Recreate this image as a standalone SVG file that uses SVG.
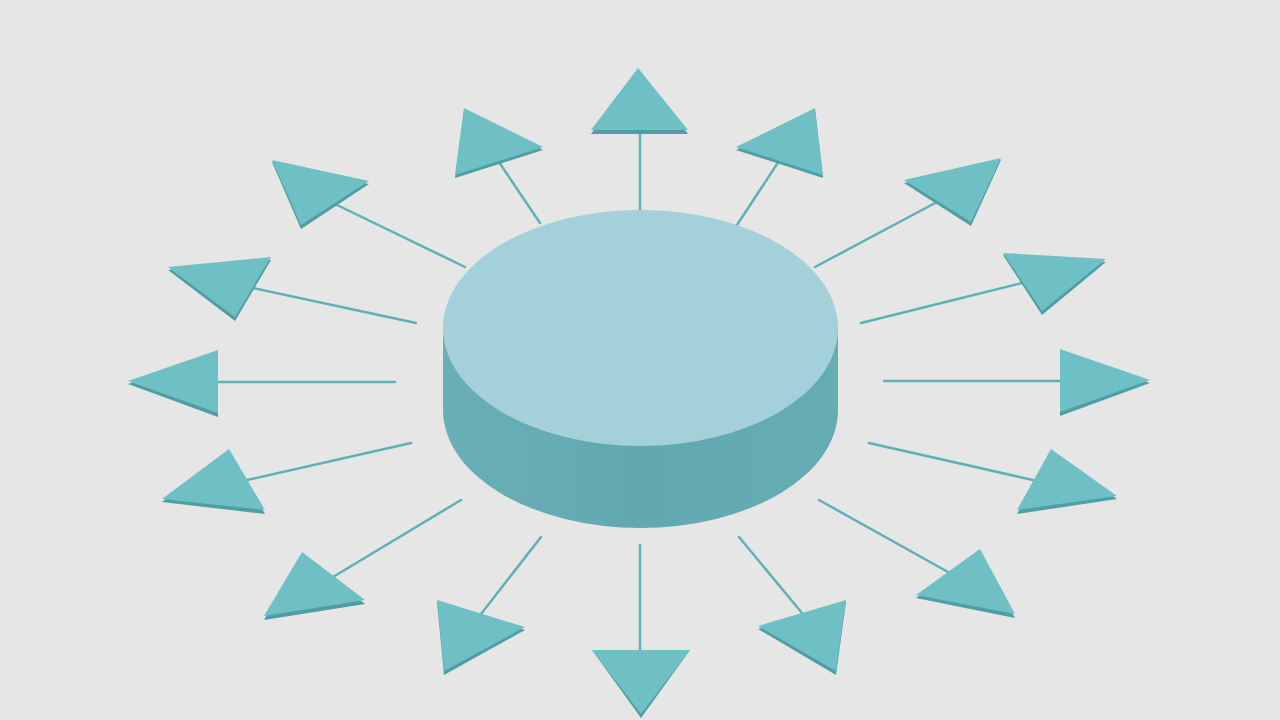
<svg xmlns="http://www.w3.org/2000/svg" width="1280" height="720" viewBox="0 0 1280 720">
<style>
.ln{stroke:#5eb1b6;stroke-width:2.5;fill:none;stroke-linecap:round}
.hd{fill:#6fc0c5}
.sh{fill:#4f9ea4}
</style>
<defs>
<linearGradient id="side" x1="0" y1="0" x2="1" y2="0">
<stop offset="0" stop-color="#6aafb6"/>
<stop offset="0.5" stop-color="#62a8b0"/>
<stop offset="1" stop-color="#66acb3"/>
</linearGradient>
</defs>
<rect width="1280" height="720" fill="#e6e6e6"/>
<g id="connectors">
<line class="ln" x1="640" y1="211" x2="640" y2="131"/>
<line class="ln" x1="640" y1="545" x2="640" y2="650"/>
<line class="ln" x1="395" y1="382" x2="218" y2="382"/>
<line class="ln" x1="884" y1="381" x2="1060" y2="381"/>
<line class="ln" x1="737" y1="225" x2="779" y2="161"/>
<line class="ln" x1="540" y1="223" x2="499" y2="162"/>
<line class="ln" x1="815" y1="267" x2="937" y2="202"/>
<line class="ln" x1="465" y1="267" x2="335" y2="204"/>
<line class="ln" x1="861" y1="323" x2="1022" y2="283"/>
<line class="ln" x1="416" y1="323" x2="253" y2="288"/>
<line class="ln" x1="411" y1="443" x2="247" y2="480"/>
<line class="ln" x1="869" y1="443" x2="1033" y2="480"/>
<line class="ln" x1="461" y1="500" x2="333" y2="577"/>
<line class="ln" x1="819" y1="500" x2="948" y2="572"/>
<line class="ln" x1="541" y1="537" x2="481" y2="614"/>
<line class="ln" x1="739" y1="537" x2="802" y2="613"/>
</g>
<g id="arrowheads">
<g id="ah-n"><polygon class="sh" points="638,70 591,134 688,134"/><polygon class="hd" points="638,68 591,130 688,130"/></g>
<g id="ah-s"><polygon class="sh" points="592,650 690,650 641,718"/><polygon class="hd" points="592,650 690,650 641,714"/></g>
<g id="ah-w"><polygon class="sh" points="128,384 218,352 218,417"/><polygon class="hd" points="128,381 218,350 218,413"/></g>
<g id="ah-e"><polygon class="sh" points="1150,383 1060,351 1060,416"/><polygon class="hd" points="1150,380 1060,349 1060,412"/></g>
<g id="ah-nne"><polygon class="sh" points="736,150 815,110 823,178"/><polygon class="hd" points="736,147 815,108 823,175"/></g>
<g id="ah-nnw"><polygon class="sh" points="464,110 455,178 543,150"/><polygon class="hd" points="464,108 455,175 543,147"/></g>
<g id="ah-ne"><polygon class="sh" points="1001,160 904,183 971,226"/><polygon class="hd" points="1001,158 904,180 971,222"/></g>
<g id="ah-nw"><polygon class="sh" points="272,162 369,184 301,229"/><polygon class="hd" points="272,160 369,181 301,225"/></g>
<g id="ah-ene"><polygon class="sh" points="1003,255 1106,262 1042,315"/><polygon class="hd" points="1003,253 1106,259 1042,311"/></g>
<g id="ah-wnw"><polygon class="sh" points="168,270 271,260 235,321"/><polygon class="hd" points="168,267 271,257 235,317"/></g>
<g id="ah-wsw"><polygon class="sh" points="229,451 162,502 265,514"/><polygon class="hd" points="229,449 162,499 265,510"/></g>
<g id="ah-ese"><polygon class="sh" points="1051,451 1117,499 1017,514"/><polygon class="hd" points="1051,449 1117,496 1017,510"/></g>
<g id="ah-sw"><polygon class="sh" points="302,554 264,620 365,604"/><polygon class="hd" points="302,552 264,616 365,600"/></g>
<g id="ah-se"><polygon class="sh" points="980,551 916,598 1015,618"/><polygon class="hd" points="980,549 916,595 1015,614"/></g>
<g id="ah-ssw"><polygon class="sh" points="437,602 525,630 444,675"/><polygon class="hd" points="437,600 525,627 444,671"/></g>
<g id="ah-sse"><polygon class="sh" points="846,602 758,629 836,675"/><polygon class="hd" points="846,600 758,626 836,671"/></g>
</g>
<g id="disk">
<path d="M443,330 L443,410 A197.5,118 0 0 0 838,410 L838,330 Z" fill="url(#side)"/>
<ellipse cx="640.5" cy="328" rx="197.5" ry="118" fill="#a4d1d9"/>
</g>
</svg>
